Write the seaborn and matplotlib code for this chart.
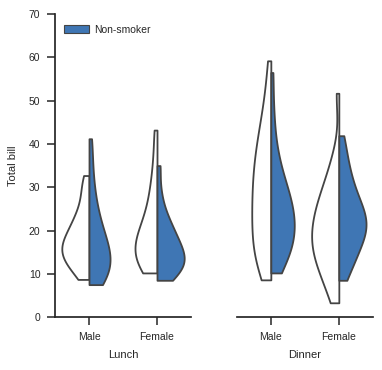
import pandas as pd
import seaborn as sns
import matplotlib.pyplot as plt
from matplotlib.patches import Patch

# total bill samples per (time, sex, smoker) group
lunch_male_smoker = [8.7, 10.2, 11.4, 12.4, 13.2, 13.9, 14.6, 15.2, 15.8, 16.5, 17.2,
                     18.0, 18.8, 19.6, 20.8, 22.0, 23.3, 24.6, 27.5, 30.0, 32.7]
lunch_male_nonsmoker = [7.5, 7.9, 8.5, 9.2, 10.0, 10.8, 11.6, 12.3, 13.0, 13.7, 14.4,
                        15.1, 15.8, 16.6, 17.5, 18.5, 19.6, 20.8, 22.2, 23.8, 25.8,
                        28.3, 31.5, 36.0, 41.2]
lunch_female_smoker = [10.2, 11.0, 11.9, 12.8, 13.7, 14.5, 15.4, 16.3, 17.2, 18.1, 19.1,
                       20.3, 21.7, 23.3, 25.8, 28.5, 31.5, 36.5, 43.2]
lunch_female_nonsmoker = [8.5, 9.4, 10.3, 11.1, 11.7, 12.3, 12.9, 13.5, 14.2, 15.0, 15.8,
                          16.7, 17.6, 18.6, 19.6, 21.0, 22.6, 24.3, 28.5, 35.0]
dinner_male_smoker = [8.6, 10.5, 12.0, 13.5, 15.0, 16.3, 17.6, 19.0, 20.4, 21.8, 23.2,
                      24.6, 26.0, 27.4, 28.8, 30.2, 31.6, 33.0, 34.5, 36.0, 37.6, 39.3,
                      41.0, 43.0, 45.5, 48.5, 52.5, 59.2]
dinner_male_nonsmoker = [10.2, 11.4, 12.6, 13.8, 15.0, 15.8, 16.6, 17.4, 18.2, 19.0, 19.8,
                         20.6, 21.4, 22.2, 23.0, 23.8, 24.6, 25.4, 26.3, 27.3, 28.3, 29.3,
                         30.4, 31.6, 33.5, 35.5, 38.0, 42.0, 48.0, 56.5]
dinner_female_smoker = [3.3, 6.0, 8.5, 10.3, 11.6, 12.9, 14.2, 15.3, 16.3, 17.3, 18.3,
                        19.3, 20.3, 21.5, 22.7, 23.9, 25.1, 26.3, 27.8, 29.4, 31.1, 34.0,
                        37.5, 51.7]
dinner_female_nonsmoker = [8.5, 10.8, 12.5, 13.8, 15.0, 16.4, 17.3, 18.2, 19.1, 19.9, 20.6,
                           21.3, 22.0, 22.7, 23.4, 24.4, 25.3, 26.2, 27.2, 28.5, 30.0, 31.5,
                           33.5, 35.5, 38.5, 41.9]

groups = [
    ("Lunch", "Male", "Smoker", lunch_male_smoker),
    ("Lunch", "Male", "Non-smoker", lunch_male_nonsmoker),
    ("Lunch", "Female", "Smoker", lunch_female_smoker),
    ("Lunch", "Female", "Non-smoker", lunch_female_nonsmoker),
    ("Dinner", "Male", "Smoker", dinner_male_smoker),
    ("Dinner", "Male", "Non-smoker", dinner_male_nonsmoker),
    ("Dinner", "Female", "Smoker", dinner_female_smoker),
    ("Dinner", "Female", "Non-smoker", dinner_female_nonsmoker),
]
rows = []
for time, sex, smoker, vals in groups:
    for v in vals:
        rows.append({"time": time, "sex": sex, "smoker": smoker, "total_bill": v})
tips = pd.DataFrame(rows)

blue = "#3f76b4"
edge = "#444444"
pal = {"Smoker": "white", "Non-smoker": blue}

sns.set_style("ticks")
plt.rcParams["font.family"] = ["Liberation Sans", "DejaVu Sans"]

fig = plt.figure(figsize=(3.82, 3.70), dpi=100)
ax1 = fig.add_axes([0.144, 0.143, 0.356, 0.819])
ax2 = fig.add_axes([0.620, 0.143, 0.356, 0.819], sharey=ax1)

for ax, time in [(ax1, "Lunch"), (ax2, "Dinner")]:
    sns.violinplot(data=tips[tips["time"] == time], x="sex", y="total_bill",
                   hue="smoker", order=["Male", "Female"],
                   hue_order=["Smoker", "Non-smoker"], palette=pal, saturation=1,
                   split=True, inner=None, cut=0, bw_adjust=0.85,
                   linecolor=edge, linewidth=1.3, legend=False, ax=ax)
    ax.set_xlabel(time, fontsize=8, labelpad=6)
    ax.tick_params(labelsize=7.5, colors="#262626", length=5.5, width=1.1, pad=5)
    ax.set_xlim(-0.5, 1.5)
    for s in ax.spines.values():
        s.set_linewidth(1.25)
        s.set_color("#262626")

ax1.set_ylim(0, 70)
ax1.set_yticks(range(0, 71, 10))
ax1.set_ylabel("Total bill", fontsize=8, labelpad=8)
ax2.set_ylabel("")
sns.despine(ax=ax1)
sns.despine(ax=ax2, left=True)
ax2.tick_params(axis="y", left=False, labelleft=False)

ax1.legend(handles=[Patch(facecolor=blue, edgecolor=edge, linewidth=0.8, label="Non-smoker")],
           loc="upper left", frameon=False, fontsize=7.5, handlelength=2.4,
           handleheight=0.8, handletextpad=0.5, bbox_to_anchor=(0.0, 0.995))

fig.savefig("out.png", dpi=100)
